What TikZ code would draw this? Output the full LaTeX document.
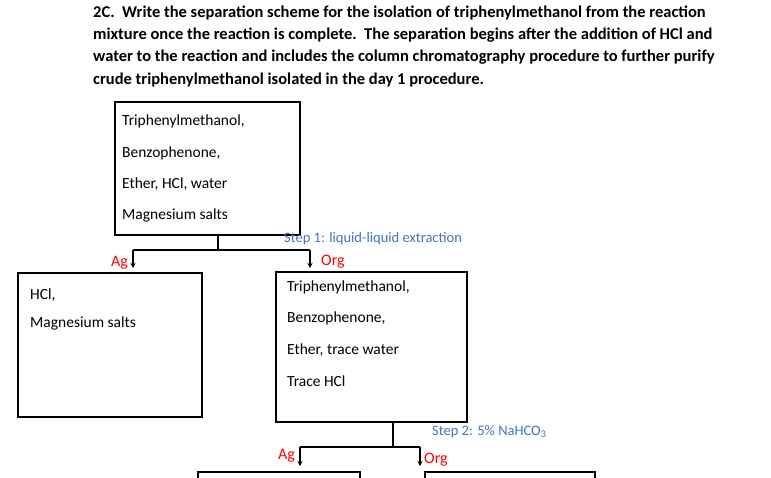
\documentclass[tikz,border=0pt]{standalone}
\usepackage{fontspec}
\setmainfont{Carlito}
\usetikzlibrary{arrows.meta}
\definecolor{stepblue}{RGB}{68,114,196}
\tikzset{
  x=1pt,y=-1pt,
  box/.style={draw,line width=1.2pt},
  bt/.style={anchor=west,font=\fontsize{15.5}{18}\selectfont,inner sep=0pt},
  bar/.style={line width=2pt},
  arr/.style={line width=1.2pt,-{Stealth[length=5pt,width=5pt]}},
  red/.style={text=red,anchor=west,font=\fontsize{16}{18}\selectfont,inner sep=0pt},
  stp/.style={text=stepblue,anchor=west,font=\fontsize{14.5}{16}\selectfont,inner sep=0pt},
  ttl/.style={anchor=west,font=\bfseries\fontsize{16.5}{18}\selectfont,inner sep=0pt}
}
\begin{document}
\begin{tikzpicture}
\useasboundingbox (0,0) rectangle (771,478);
\node[ttl] (t1) at (93,13) {2C.\ \ Write the separation scheme for the isolation of triphenylmethanol from the reaction};
\node[ttl] (t2) at (93,35) {mixture once the reaction is complete.\ \ The separation begins after the addition of HCl and};
\node[ttl] (t3) at (93,57) {water to the reaction and includes the column chromatography procedure to further purify};
\node[ttl] (t4) at (93,80) {crude triphenylmethanol isolated in the day 1 procedure.};

\draw[box] (115,102) rectangle (300,235);
\node[bt] (a1) at (122,121) {Triphenylmethanol,};
\node[bt] (a2) at (122,153) {Benzophenone,};
\node[bt] (a3) at (122,184) {Ether, HCl, water};
\node[bt] (a4) at (122,215) {Magnesium salts};

\coordinate (s1) at (218,235);
\coordinate (j1) at (218,250);
\coordinate (l1) at (133,250);
\coordinate (r1) at (310,250);
\coordinate (le) at (133,268);
\coordinate (re) at (310,268);
\draw[bar] (s1) -- (j1);
\draw[bar] (l1) -- (r1);
\draw[arr] (l1) -- (le);
\draw[arr] (r1) -- (re);
\node[red] (ag1) at (111,263) {Ag};
\node[red] (org1) at (321,262) {Org};
\node[stp] (st1) at (284,239) {Step 1: liquid-liquid extraction};

\draw[box] (18,273) rectangle (202,417);
\node[bt] (b1) at (30,295) {HCl,};
\node[bt] (b2) at (30,323) {Magnesium salts};

\draw[box] (276,272) rectangle (467,422);
\node[bt] (c1) at (287,287) {Triphenylmethanol,};
\node[bt] (c2) at (287,318) {Benzophenone,};
\node[bt] (c3) at (287,350) {Ether, trace water};
\node[bt] (c4) at (287,381) {Trace HCl};

\coordinate (s2) at (393,422);
\coordinate (j2) at (393,447);
\coordinate (l2) at (300,447);
\coordinate (r2) at (420,447);
\draw[bar] (s2) -- (j2);
\draw[bar] (l2) -- (r2);
\draw[arr] (l2) -- (300,466);
\draw[arr] (r2) -- (420,466);
\node[red] (ag2) at (278,456) {Ag};
\node[red] (org2) at (424,460) {Org};
\node[stp] (st2) at (432,432) {Step 2: 5\% NaHCO\textsubscript{3}};

\draw[box] (198,480) -- (198,472) -- (360,472) -- (360,480);
\draw[box] (425,480) -- (425,472) -- (595,472) -- (595,480);
\end{tikzpicture}
\end{document}
